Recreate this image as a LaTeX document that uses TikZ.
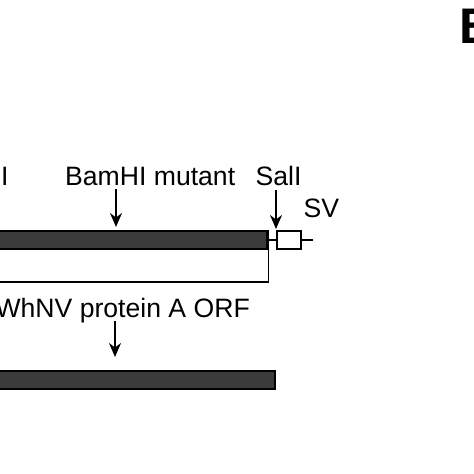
\documentclass[tikz,border=0pt]{standalone}
\usepackage{fontspec}
\setmainfont{Liberation Sans}
\usetikzlibrary{arrows.meta}
\definecolor{bargray}{HTML}{3B3B3B}
\begin{document}
\begin{tikzpicture}[x=1pt,y=-1pt,
  lbl/.style={font=\fontsize{26.6}{28}\selectfont, inner sep=0pt, anchor=base west},
  bar/.style={draw=black, fill=bargray, line width=2.4pt, rectangle, inner sep=0pt, outer sep=0pt},
  wbox/.style={draw=black, fill=white, line width=1.8pt, rectangle, inner sep=0pt, outer sep=0pt},
  arr/.style={line width=1.9pt, -{Stealth[length=14pt,width=12pt,inset=4.5pt]}},
  thin/.style={line width=1.8pt}]
\useasboundingbox (0,0) rectangle (474,474);
\clip (0,0) rectangle (474,474);
\fill[white] (0,0) rectangle (474,474);
% panel letter
\node[inner sep=0pt, anchor=base west, font=\fontsize{50}{52}\selectfont\bfseries] (panel) at (459.5,43) {B};
% labels
\node[lbl] (cut) at (1,185.5) {I};
\node[lbl] (bam) at (65,185.5) {BamHI mutant};
\node[lbl] (sal) at (255.5,185.5) {SalI};
\node[lbl] (sv) at (303.5,217) {SV};
\node[lbl, anchor=base east] (orf) at (250,317) {WhNV protein A ORF};
% upper construct
\node[bar, minimum width=273pt, minimum height=18pt] (bar1) at (131,240) {};
\node[wbox, minimum width=24pt, minimum height=18pt] (svbox) at (289,240) {};
\draw[line width=2.2pt] (bar1.east) -- (svbox.west);
\coordinate (tail) at (312.5,240);
\draw[line width=2.2pt] (svbox.east) -- (tail);
% bracket
\coordinate (brL) at (-5,282);
\draw[thin] ([xshift=1pt]bar1.south east) |- (brL);
% lower bar
\node[bar, line width=2.6pt, minimum width=280pt, minimum height=18pt] (bar2) at (135,380) {};
% arrows
\coordinate (a1s) at (116,189); \coordinate (a1e) at (116,227);
\draw[arr] (a1s) -- (a1e);
\coordinate (a2s) at (276,190); \coordinate (a2e) at (276,229);
\draw[arr] (a2s) -- (a2e);
\coordinate (a3s) at (115,321); \coordinate (a3e) at (115,357);
\draw[arr] (a3s) -- (a3e);
\end{tikzpicture}
\end{document}
